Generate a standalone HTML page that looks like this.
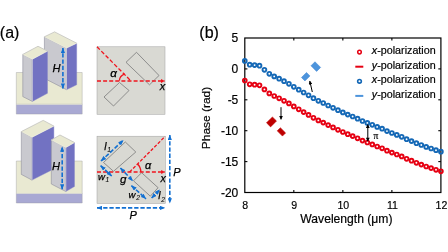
<!DOCTYPE html>
<html><head><meta charset="utf-8"><title>figure</title>
<style>
html,body{margin:0;padding:0;background:#fff;}
body{width:448px;height:252px;overflow:hidden;}
svg{display:block;}
text{font-family:"Liberation Sans",Arial,sans-serif;fill:#000;stroke:#000;stroke-width:0.18px;}
.it{font-style:italic;}
.lbl{font-size:11px;font-style:italic;stroke:#000;stroke-width:0.25;}
.tk{font-size:12px;}
.bd{stroke:#1270d2;stroke-width:1.6;stroke-dasharray:4.3 1.9;fill:none;}
.rd{stroke:#f0141e;stroke-width:1.3;stroke-dasharray:4 2.1;fill:none;}
</style></head><body>
<svg width="448" height="252" viewBox="0 0 448 252">
<rect x="0" y="0" width="448" height="252" fill="#fff"/>
<defs>
<marker id="ab" viewBox="0 0 10 8" refX="9.6" refY="4" markerUnits="userSpaceOnUse" markerWidth="5.4" markerHeight="4.3" orient="auto-start-reverse"><path d="M0,0 L10,4 L0,8 z" fill="#1270d2"/></marker>
<marker id="ar" viewBox="0 0 10 10" refX="9" refY="5" markerUnits="userSpaceOnUse" markerWidth="4.8" markerHeight="4" orient="auto-start-reverse"><path d="M0,0 L10,5 L0,10 z" fill="#f0141e"/></marker>
<marker id="ak" viewBox="0 0 10 10" refX="9" refY="5" markerUnits="userSpaceOnUse" markerWidth="4.5" markerHeight="3.8" orient="auto-start-reverse"><path d="M0,0 L10,5 L0,10 z" fill="#000"/></marker>
</defs>

<text x="-0.2" y="37.6" style="font-size:16px">(a)</text>
<text x="199.3" y="37.8" style="font-size:16px">(b)</text>
<polygon points="16.30,72.50 82.20,72.50 82.20,104.40 16.30,104.40" fill="#e9e9d2" stroke="#9a9aa0" stroke-width="0.4" stroke-linejoin="round"/>
<polygon points="16.30,104.40 82.20,104.40 82.20,114.10 16.30,114.10" fill="#a9a9d3" stroke="#9a9aa0" stroke-width="0.4" stroke-linejoin="round"/>
<polygon points="44.40,36.80 66.50,48.10 66.50,89.70 44.40,78.40" fill="#c9c9cf" stroke="#8e8e9c" stroke-width="0.6" stroke-linejoin="round"/>
<polygon points="66.50,48.10 76.70,43.20 76.70,84.80 66.50,89.70" fill="#7272c2" stroke="#8686c8" stroke-width="0.4" stroke-linejoin="round"/>
<polygon points="44.40,36.80 54.60,31.90 76.70,43.20 66.50,48.10" fill="#e9e9d2" stroke="#f3f3e3" stroke-width="0.6" stroke-linejoin="round"/>
<polyline points="44.40,36.80 54.60,31.90 76.70,43.20" fill="none" stroke="#a4a4a8" stroke-width="0.5"/>
<line x1="66.50" y1="48.10" x2="66.50" y2="89.70" stroke="#ecece0" stroke-width="0.6"/>
<polygon points="22.80,54.40 32.30,59.20 32.30,101.40 22.80,96.60" fill="#c9c9cf" stroke="#8e8e9c" stroke-width="0.6" stroke-linejoin="round"/>
<polygon points="32.30,59.20 47.50,51.10 47.50,93.30 32.30,101.40" fill="#7272c2" stroke="#8686c8" stroke-width="0.4" stroke-linejoin="round"/>
<polygon points="22.80,54.40 38.00,46.30 47.50,51.10 32.30,59.20" fill="#e9e9d2" stroke="#f3f3e3" stroke-width="0.6" stroke-linejoin="round"/>
<polyline points="22.80,54.40 38.00,46.30 47.50,51.10" fill="none" stroke="#a4a4a8" stroke-width="0.5"/>
<line x1="32.30" y1="59.20" x2="32.30" y2="101.40" stroke="#ecece0" stroke-width="0.6"/>
<line class="bd" x1="62.9" y1="88.6" x2="62.9" y2="48" marker-start="url(#ab)" marker-end="url(#ab)"/>
<text class="lbl" x="52.5" y="72.3" font-size="10">H</text>
<line x1="16.3" y1="104.4" x2="82.2" y2="104.4" stroke="#f2f2e4" stroke-width="0.6"/>
<polygon points="16.30,161.00 82.20,161.00 82.20,193.50 16.30,193.50" fill="#e9e9d2" stroke="#9a9aa0" stroke-width="0.4" stroke-linejoin="round"/>
<polygon points="16.30,193.50 82.20,193.50 82.20,203.00 16.30,203.00" fill="#a9a9d3" stroke="#9a9aa0" stroke-width="0.4" stroke-linejoin="round"/>
<polygon points="21.30,131.60 32.00,137.30 32.00,180.10 21.30,174.40" fill="#c9c9cf" stroke="#8e8e9c" stroke-width="0.6" stroke-linejoin="round"/>
<polygon points="32.00,137.30 53.90,126.10 53.90,168.90 32.00,180.10" fill="#7272c2" stroke="#8686c8" stroke-width="0.4" stroke-linejoin="round"/>
<polygon points="21.30,131.60 43.20,120.40 53.90,126.10 32.00,137.30" fill="#e9e9d2" stroke="#f3f3e3" stroke-width="0.6" stroke-linejoin="round"/>
<polyline points="21.30,131.60 43.20,120.40 53.90,126.10" fill="none" stroke="#a4a4a8" stroke-width="0.5"/>
<line x1="32.00" y1="137.30" x2="32.00" y2="180.10" stroke="#ecece0" stroke-width="0.6"/>
<polygon points="51.30,140.00 65.80,147.50 65.80,191.50 51.30,184.00" fill="#c9c9cf" stroke="#8e8e9c" stroke-width="0.6" stroke-linejoin="round"/>
<polygon points="65.80,147.50 74.50,142.50 74.50,186.50 65.80,191.50" fill="#7272c2" stroke="#8686c8" stroke-width="0.4" stroke-linejoin="round"/>
<polygon points="51.30,140.00 60.00,135.00 74.50,142.50 65.80,147.50" fill="#e9e9d2" stroke="#f3f3e3" stroke-width="0.6" stroke-linejoin="round"/>
<polyline points="51.30,140.00 60.00,135.00 74.50,142.50" fill="none" stroke="#a4a4a8" stroke-width="0.5"/>
<line x1="65.80" y1="147.50" x2="65.80" y2="191.50" stroke="#ecece0" stroke-width="0.6"/>
<line class="bd" x1="62.2" y1="189.3" x2="62.2" y2="146.6" marker-start="url(#ab)" marker-end="url(#ab)"/>
<text class="lbl" x="52" y="169.5" font-size="10">H</text>
<line x1="16.3" y1="193.5" x2="82.2" y2="193.5" stroke="#f2f2e4" stroke-width="0.6"/>
<rect x="97" y="46.8" width="68" height="67.5" fill="#d9d9d3" stroke="#a0a0a0" stroke-width="0.5"/>
<polygon points="136.50,52.30 159.00,75.50 149.50,84.80 126.00,62.30" fill="none" stroke="#7a7a7a" stroke-width="0.8" stroke-linejoin="round"/>
<polygon points="104.00,97.00 119.50,82.50 129.00,90.50 113.50,106.00" fill="none" stroke="#7a7a7a" stroke-width="0.8" stroke-linejoin="round"/>
<line class="rd" x1="97" y1="81" x2="164.5" y2="81" marker-end="url(#ar)"/>
<line class="rd" x1="97" y1="46.8" x2="131" y2="81"/>
<path d="M119.4,80.6 Q119.6,75.6 125,73.8" stroke="#f0141e" stroke-width="1.3" fill="none"/>
<text class="lbl" x="110.2" y="77.1" style="font-size:11.8px">α</text>
<text class="lbl" x="159.8" y="90">x</text>
<rect x="97" y="136.2" width="68.4" height="67.3" fill="#d9d9d3" stroke="#a0a0a0" stroke-width="0.5"/>
<polygon points="125.30,142.00 135.80,152.00 113.50,171.30 103.50,162.50" fill="none" stroke="#7a7a7a" stroke-width="0.8" stroke-linejoin="round"/>
<polygon points="141.60,172.70 158.10,187.70 150.30,196.20 133.50,180.80" fill="none" stroke="#7a7a7a" stroke-width="0.8" stroke-linejoin="round"/>
<line class="rd" x1="97" y1="172" x2="164.7" y2="172" marker-end="url(#ar)"/>
<line class="rd" x1="129.6" y1="172" x2="165" y2="136.5" style="stroke-dasharray:3.3 1.7"/>
<path d="M137.6,164 A11,11 0 0 1 140.8,172" stroke="#f0141e" stroke-width="1.3" fill="none"/>
<line class="bd" x1="101" y1="161" x2="123.4" y2="140.2" marker-start="url(#ab)" marker-end="url(#ab)"/>
<line class="bd" x1="100.6" y1="165.7" x2="111.7" y2="176" marker-start="url(#ab)" marker-end="url(#ab)"/>
<line class="bd" x1="120.4" y1="168" x2="132.9" y2="181" marker-start="url(#ab)" marker-end="url(#ab)"/>
<line class="bd" x1="131.4" y1="185.6" x2="146" y2="198.8" marker-start="url(#ab)" marker-end="url(#ab)"/>
<line class="bd" x1="151.6" y1="198" x2="159.8" y2="189.6" marker-start="url(#ab)" marker-end="url(#ab)"/>
<line class="bd" x1="169.8" y1="135" x2="169.8" y2="203.3" marker-start="url(#ab)" marker-end="url(#ab)"/>
<line class="bd" x1="97" y1="207.9" x2="165" y2="207.9" marker-start="url(#ab)" marker-end="url(#ab)"/>
<text class="lbl" x="104.3" y="149.9" style="font-size:10.3px">l<tspan style="font-size:6.6px;stroke-width:0.08px" dx="0.6" dy="1.9">1</tspan></text>
<text class="lbl" x="98" y="180.2" style="font-size:9.6px">w<tspan style="font-size:6.6px;stroke-width:0.08px" dx="0.6" dy="2.2">1</tspan></text>
<text class="lbl" x="120" y="183.1" style="font-size:11.6px">g</text>
<text class="lbl" x="145" y="168.5">α</text>
<text class="lbl" x="160.5" y="181.7" style="font-size:10.6px">x</text>
<text class="lbl" x="173.3" y="175.5">P</text>
<text class="lbl" x="128.6" y="197.6" style="font-size:9.6px">w<tspan style="font-size:6.6px;stroke-width:0.08px" dx="0.6" dy="2.2">2</tspan></text>
<text class="lbl" x="158.3" y="199.2" style="font-size:10.3px">l<tspan style="font-size:6.6px;stroke-width:0.08px" dx="0.6" dy="3.2">2</tspan></text>
<text class="lbl" x="129.5" y="219">P</text>
<rect x="244.8" y="38.0" width="196.1" height="154.5" fill="none" stroke="#000" stroke-width="1.2"/>
<line x1="293.82" y1="192.5" x2="293.82" y2="189.9" stroke="#000" stroke-width="1.1"/>
<line x1="293.82" y1="38.0" x2="293.82" y2="40.6" stroke="#000" stroke-width="1.1"/>
<line x1="342.85" y1="192.5" x2="342.85" y2="189.9" stroke="#000" stroke-width="1.1"/>
<line x1="342.85" y1="38.0" x2="342.85" y2="40.6" stroke="#000" stroke-width="1.1"/>
<line x1="391.88" y1="192.5" x2="391.88" y2="189.9" stroke="#000" stroke-width="1.1"/>
<line x1="391.88" y1="38.0" x2="391.88" y2="40.6" stroke="#000" stroke-width="1.1"/>
<line x1="244.8" y1="68.90" x2="247.4" y2="68.90" stroke="#000" stroke-width="1.1"/>
<line x1="440.9" y1="68.90" x2="438.3" y2="68.90" stroke="#000" stroke-width="1.1"/>
<line x1="244.8" y1="99.80" x2="247.4" y2="99.80" stroke="#000" stroke-width="1.1"/>
<line x1="440.9" y1="99.80" x2="438.3" y2="99.80" stroke="#000" stroke-width="1.1"/>
<line x1="244.8" y1="130.70" x2="247.4" y2="130.70" stroke="#000" stroke-width="1.1"/>
<line x1="440.9" y1="130.70" x2="438.3" y2="130.70" stroke="#000" stroke-width="1.1"/>
<line x1="244.8" y1="161.60" x2="247.4" y2="161.60" stroke="#000" stroke-width="1.1"/>
<line x1="440.9" y1="161.60" x2="438.3" y2="161.60" stroke="#000" stroke-width="1.1"/>
<text class="tk" transform="translate(245.30,208.7) scale(0.93,1)" font-size="11.4" style="font-size:11.4px" text-anchor="middle">8</text>
<text class="tk" transform="translate(294.32,208.7) scale(0.93,1)" font-size="11.4" style="font-size:11.4px" text-anchor="middle">9</text>
<text class="tk" transform="translate(343.35,208.7) scale(0.93,1)" font-size="11.4" style="font-size:11.4px" text-anchor="middle">10</text>
<text class="tk" transform="translate(392.38,208.7) scale(0.93,1)" font-size="11.4" style="font-size:11.4px" text-anchor="middle">11</text>
<text class="tk" transform="translate(441.40,208.7) scale(0.93,1)" font-size="11.4" style="font-size:11.4px" text-anchor="middle">12</text>
<text class="tk" x="238.3" y="42.30" text-anchor="end">5</text>
<text class="tk" x="238.3" y="73.20" text-anchor="end">0</text>
<text class="tk" x="238.3" y="104.10" text-anchor="end">-5</text>
<text class="tk" x="238.3" y="135.00" text-anchor="end">-10</text>
<text class="tk" x="238.3" y="165.90" text-anchor="end">-15</text>
<text class="tk" x="238.3" y="196.80" text-anchor="end">-20</text>
<text x="300.3" y="223.4" style="font-size:12.15px">Wavelength (μm)</text>
<text transform="translate(209.9,149.2) rotate(-90) scale(1.05,1)" style="font-size:11.4px">Phase (rad)</text>
<circle cx="244.80" cy="80.50" r="1.88" fill="none" stroke="#e60012" stroke-width="1.9"/>
<circle cx="249.70" cy="84.30" r="1.88" fill="none" stroke="#e60012" stroke-width="1.9"/>
<circle cx="254.61" cy="84.70" r="1.88" fill="none" stroke="#e60012" stroke-width="1.9"/>
<circle cx="259.51" cy="85.30" r="1.88" fill="none" stroke="#e60012" stroke-width="1.9"/>
<circle cx="264.41" cy="89.40" r="1.88" fill="none" stroke="#e60012" stroke-width="1.9"/>
<circle cx="269.31" cy="93.40" r="1.88" fill="none" stroke="#e60012" stroke-width="1.9"/>
<circle cx="274.22" cy="96.00" r="1.88" fill="none" stroke="#e60012" stroke-width="1.9"/>
<circle cx="279.12" cy="98.30" r="1.88" fill="none" stroke="#e60012" stroke-width="1.9"/>
<circle cx="284.02" cy="100.80" r="1.88" fill="none" stroke="#e60012" stroke-width="1.9"/>
<circle cx="288.92" cy="103.40" r="1.88" fill="none" stroke="#e60012" stroke-width="1.9"/>
<circle cx="293.82" cy="106.40" r="1.88" fill="none" stroke="#e60012" stroke-width="1.9"/>
<circle cx="298.73" cy="109.30" r="1.88" fill="none" stroke="#e60012" stroke-width="1.9"/>
<circle cx="303.63" cy="112.10" r="1.88" fill="none" stroke="#e60012" stroke-width="1.9"/>
<circle cx="308.53" cy="114.90" r="1.88" fill="none" stroke="#e60012" stroke-width="1.9"/>
<circle cx="313.44" cy="117.80" r="1.88" fill="none" stroke="#e60012" stroke-width="1.9"/>
<circle cx="318.34" cy="120.40" r="1.88" fill="none" stroke="#e60012" stroke-width="1.9"/>
<circle cx="323.24" cy="122.60" r="1.88" fill="none" stroke="#e60012" stroke-width="1.9"/>
<circle cx="328.14" cy="125.10" r="1.88" fill="none" stroke="#e60012" stroke-width="1.9"/>
<circle cx="333.04" cy="127.40" r="1.88" fill="none" stroke="#e60012" stroke-width="1.9"/>
<circle cx="337.95" cy="129.80" r="1.88" fill="none" stroke="#e60012" stroke-width="1.9"/>
<circle cx="342.85" cy="132.00" r="1.88" fill="none" stroke="#e60012" stroke-width="1.9"/>
<circle cx="347.75" cy="134.20" r="1.88" fill="none" stroke="#e60012" stroke-width="1.9"/>
<circle cx="352.65" cy="136.10" r="1.88" fill="none" stroke="#e60012" stroke-width="1.9"/>
<circle cx="357.56" cy="138.30" r="1.88" fill="none" stroke="#e60012" stroke-width="1.9"/>
<circle cx="362.46" cy="140.60" r="1.88" fill="none" stroke="#e60012" stroke-width="1.9"/>
<circle cx="367.36" cy="142.50" r="1.88" fill="none" stroke="#e60012" stroke-width="1.9"/>
<circle cx="372.26" cy="144.40" r="1.88" fill="none" stroke="#e60012" stroke-width="1.9"/>
<circle cx="377.17" cy="146.50" r="1.88" fill="none" stroke="#e60012" stroke-width="1.9"/>
<circle cx="382.07" cy="148.30" r="1.88" fill="none" stroke="#e60012" stroke-width="1.9"/>
<circle cx="386.97" cy="150.70" r="1.88" fill="none" stroke="#e60012" stroke-width="1.9"/>
<circle cx="391.88" cy="152.60" r="1.88" fill="none" stroke="#e60012" stroke-width="1.9"/>
<circle cx="396.78" cy="154.50" r="1.88" fill="none" stroke="#e60012" stroke-width="1.9"/>
<circle cx="401.68" cy="156.40" r="1.88" fill="none" stroke="#e60012" stroke-width="1.9"/>
<circle cx="406.58" cy="158.80" r="1.88" fill="none" stroke="#e60012" stroke-width="1.9"/>
<circle cx="411.49" cy="160.70" r="1.88" fill="none" stroke="#e60012" stroke-width="1.9"/>
<circle cx="416.39" cy="162.80" r="1.88" fill="none" stroke="#e60012" stroke-width="1.9"/>
<circle cx="421.29" cy="164.60" r="1.88" fill="none" stroke="#e60012" stroke-width="1.9"/>
<circle cx="426.19" cy="166.50" r="1.88" fill="none" stroke="#e60012" stroke-width="1.9"/>
<circle cx="431.09" cy="168.10" r="1.88" fill="none" stroke="#e60012" stroke-width="1.9"/>
<circle cx="436.00" cy="169.80" r="1.88" fill="none" stroke="#e60012" stroke-width="1.9"/>
<circle cx="440.90" cy="171.30" r="1.88" fill="none" stroke="#e60012" stroke-width="1.9"/>
<circle cx="244.80" cy="60.90" r="1.88" fill="none" stroke="#1468b6" stroke-width="1.9"/>
<circle cx="249.70" cy="64.70" r="1.88" fill="none" stroke="#1468b6" stroke-width="1.9"/>
<circle cx="254.61" cy="65.10" r="1.88" fill="none" stroke="#1468b6" stroke-width="1.9"/>
<circle cx="259.51" cy="65.70" r="1.88" fill="none" stroke="#1468b6" stroke-width="1.9"/>
<circle cx="264.41" cy="69.80" r="1.88" fill="none" stroke="#1468b6" stroke-width="1.9"/>
<circle cx="269.31" cy="73.80" r="1.88" fill="none" stroke="#1468b6" stroke-width="1.9"/>
<circle cx="274.22" cy="76.40" r="1.88" fill="none" stroke="#1468b6" stroke-width="1.9"/>
<circle cx="279.12" cy="78.70" r="1.88" fill="none" stroke="#1468b6" stroke-width="1.9"/>
<circle cx="284.02" cy="81.20" r="1.88" fill="none" stroke="#1468b6" stroke-width="1.9"/>
<circle cx="288.92" cy="83.80" r="1.88" fill="none" stroke="#1468b6" stroke-width="1.9"/>
<circle cx="293.82" cy="86.80" r="1.88" fill="none" stroke="#1468b6" stroke-width="1.9"/>
<circle cx="298.73" cy="89.70" r="1.88" fill="none" stroke="#1468b6" stroke-width="1.9"/>
<circle cx="303.63" cy="92.50" r="1.88" fill="none" stroke="#1468b6" stroke-width="1.9"/>
<circle cx="308.53" cy="95.30" r="1.88" fill="none" stroke="#1468b6" stroke-width="1.9"/>
<circle cx="313.44" cy="98.20" r="1.88" fill="none" stroke="#1468b6" stroke-width="1.9"/>
<circle cx="318.34" cy="100.80" r="1.88" fill="none" stroke="#1468b6" stroke-width="1.9"/>
<circle cx="323.24" cy="103.00" r="1.88" fill="none" stroke="#1468b6" stroke-width="1.9"/>
<circle cx="328.14" cy="105.50" r="1.88" fill="none" stroke="#1468b6" stroke-width="1.9"/>
<circle cx="333.04" cy="107.80" r="1.88" fill="none" stroke="#1468b6" stroke-width="1.9"/>
<circle cx="337.95" cy="110.20" r="1.88" fill="none" stroke="#1468b6" stroke-width="1.9"/>
<circle cx="342.85" cy="112.40" r="1.88" fill="none" stroke="#1468b6" stroke-width="1.9"/>
<circle cx="347.75" cy="114.60" r="1.88" fill="none" stroke="#1468b6" stroke-width="1.9"/>
<circle cx="352.65" cy="116.50" r="1.88" fill="none" stroke="#1468b6" stroke-width="1.9"/>
<circle cx="357.56" cy="118.70" r="1.88" fill="none" stroke="#1468b6" stroke-width="1.9"/>
<circle cx="362.46" cy="121.00" r="1.88" fill="none" stroke="#1468b6" stroke-width="1.9"/>
<circle cx="367.36" cy="122.90" r="1.88" fill="none" stroke="#1468b6" stroke-width="1.9"/>
<circle cx="372.26" cy="124.80" r="1.88" fill="none" stroke="#1468b6" stroke-width="1.9"/>
<circle cx="377.17" cy="126.90" r="1.88" fill="none" stroke="#1468b6" stroke-width="1.9"/>
<circle cx="382.07" cy="128.70" r="1.88" fill="none" stroke="#1468b6" stroke-width="1.9"/>
<circle cx="386.97" cy="131.10" r="1.88" fill="none" stroke="#1468b6" stroke-width="1.9"/>
<circle cx="391.88" cy="133.00" r="1.88" fill="none" stroke="#1468b6" stroke-width="1.9"/>
<circle cx="396.78" cy="134.90" r="1.88" fill="none" stroke="#1468b6" stroke-width="1.9"/>
<circle cx="401.68" cy="136.80" r="1.88" fill="none" stroke="#1468b6" stroke-width="1.9"/>
<circle cx="406.58" cy="139.20" r="1.88" fill="none" stroke="#1468b6" stroke-width="1.9"/>
<circle cx="411.49" cy="141.10" r="1.88" fill="none" stroke="#1468b6" stroke-width="1.9"/>
<circle cx="416.39" cy="143.20" r="1.88" fill="none" stroke="#1468b6" stroke-width="1.9"/>
<circle cx="421.29" cy="145.00" r="1.88" fill="none" stroke="#1468b6" stroke-width="1.9"/>
<circle cx="426.19" cy="146.90" r="1.88" fill="none" stroke="#1468b6" stroke-width="1.9"/>
<circle cx="431.09" cy="148.50" r="1.88" fill="none" stroke="#1468b6" stroke-width="1.9"/>
<circle cx="436.00" cy="150.20" r="1.88" fill="none" stroke="#1468b6" stroke-width="1.9"/>
<circle cx="440.90" cy="151.70" r="1.88" fill="none" stroke="#1468b6" stroke-width="1.9"/>
<polygon points="272.42,116.88 276.52,120.98 270.58,126.92 266.48,122.82" fill="#be0000" stroke="#be0000" stroke-width="0.5" stroke-linejoin="round"/>
<polygon points="280.37,127.69 285.61,132.93 282.43,136.11 277.19,130.87" fill="#be0000" stroke="#be0000" stroke-width="0.5" stroke-linejoin="round"/>
<polygon points="314.99,61.76 320.64,67.41 316.61,71.44 310.96,65.79" fill="#4d94dc" stroke="#3a80d0" stroke-width="0.5" stroke-linejoin="round"/>
<polygon points="306.48,72.46 309.94,75.92 304.92,80.94 301.46,77.48" fill="#4d94dc" stroke="#3a80d0" stroke-width="0.5" stroke-linejoin="round"/>
<line x1="281" y1="107.2" x2="281" y2="119.3" stroke="#000" stroke-width="1" marker-end="url(#ak)"/>
<line x1="312.3" y1="92" x2="309.8" y2="81" stroke="#000" stroke-width="1" marker-end="url(#ak)"/>
<line x1="367.8" y1="124.6" x2="367.8" y2="141.2" stroke="#000" stroke-width="1" marker-start="url(#ak)" marker-end="url(#ak)"/>
<text x="373.4" y="138.6" style="font-size:9.6px;font-family:'Liberation Serif',serif;stroke:#000;stroke-width:0.2">π</text>
<circle cx="359.5" cy="52.1" r="1.8" fill="none" stroke="#e60012" stroke-width="1.5"/>
<line x1="355.3" y1="66.7" x2="363.3" y2="66.7" stroke="#e60012" stroke-width="2"/>
<circle cx="359.5" cy="81.3" r="1.85" fill="none" stroke="#1468b6" stroke-width="1.6"/>
<line x1="355.3" y1="95.9" x2="363.3" y2="95.9" stroke="#4d94dc" stroke-width="2"/>
<text transform="translate(371.8,54.0) scale(1.075,1)" style="font-size:10px"><tspan class="it">x</tspan>-polarization</text>
<text transform="translate(371.8,68.6) scale(1.075,1)" style="font-size:10px"><tspan class="it">y</tspan>-polarization</text>
<text transform="translate(371.8,83.3) scale(1.075,1)" style="font-size:10px"><tspan class="it">x</tspan>-polarization</text>
<text transform="translate(371.8,98.0) scale(1.075,1)" style="font-size:10px"><tspan class="it">y</tspan>-polarization</text>
</svg></body></html>
